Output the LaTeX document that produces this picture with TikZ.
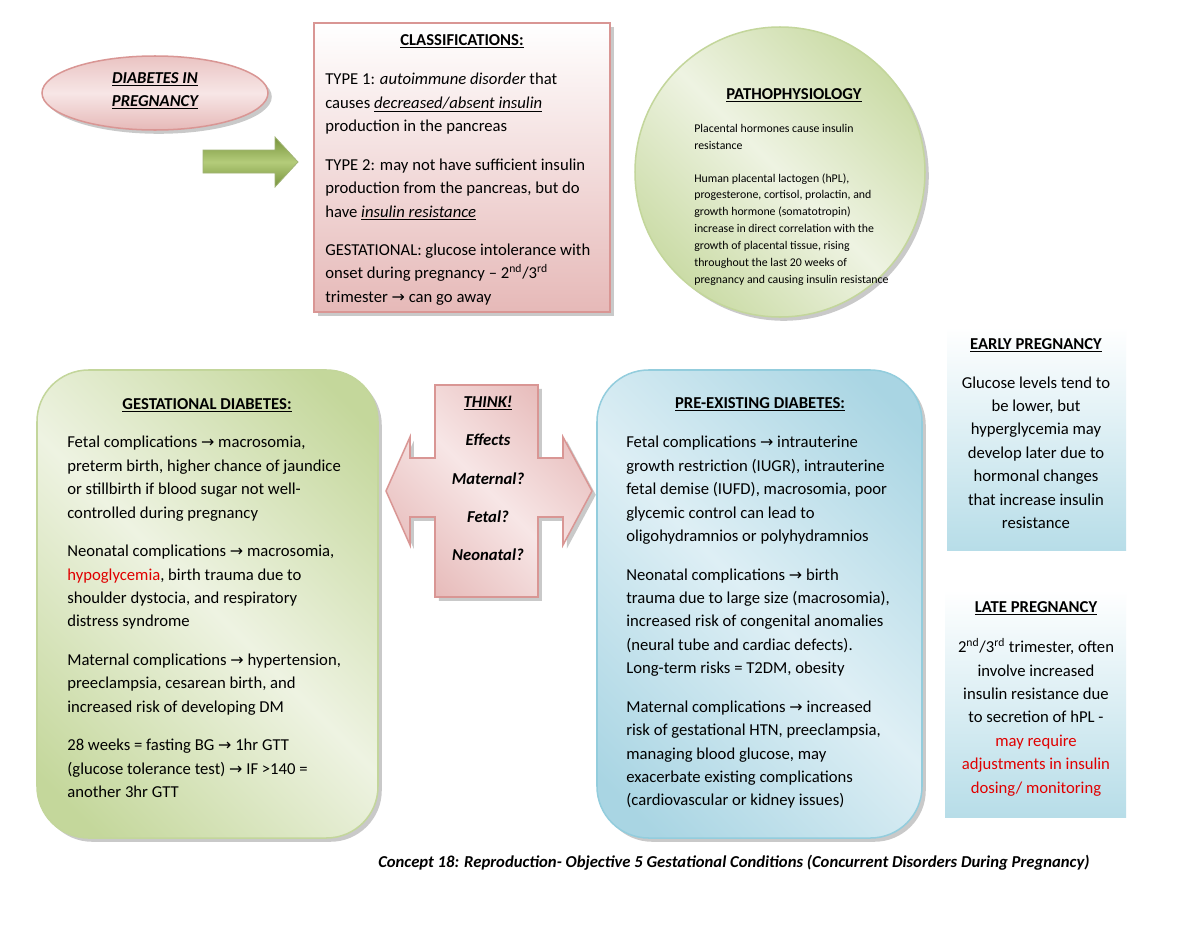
\documentclass[tikz,border=0pt]{standalone}
\usepackage{fontspec}
\setmainfont{Carlito}
\newfontfamily\arrowfont{DejaVu Sans}
\usetikzlibrary{shadows}
\newcommand\rarr{{\arrowfont\fontsize{10.5}{10.5}\selectfont →}}
\definecolor{pinkedge}{HTML}{D99694}
\definecolor{pinkfill}{HTML}{E6B9B8}
\definecolor{pinklight}{HTML}{F7E6E6}
\definecolor{gedge}{HTML}{C3D69B}
\definecolor{gdark}{HTML}{C4D79B}
\definecolor{glight}{HTML}{EEF3E2}
\definecolor{arrowdark}{HTML}{77933C}
\definecolor{arrowlight}{HTML}{B4CC7A}
\definecolor{bedge}{HTML}{93CDDD}
\definecolor{bdark}{HTML}{A9D5E3}
\definecolor{blight}{HTML}{DEEFF5}
\definecolor{bbottom}{HTML}{B7DDE8}
\definecolor{redtxt}{HTML}{E00000}
\pgfdeclareverticalshading{gdiag}{100bp}{color(0bp)=(gdark); color(20bp)=(gdark); color(50bp)=(glight); color(80bp)=(gdark); color(100bp)=(gdark)}
\pgfdeclareverticalshading{bdiag}{100bp}{color(0bp)=(bdark); color(20bp)=(bdark); color(50bp)=(blight); color(80bp)=(bdark); color(100bp)=(bdark)}
\pgfdeclareverticalshading{pdiag}{100bp}{color(0bp)=(pinkfill); color(22bp)=(pinkfill); color(50bp)=(pinklight); color(78bp)=(pinkfill); color(100bp)=(pinkfill)}
\tikzset{
  shad/.style={drop shadow={shadow xshift=2.5pt,shadow yshift=-2.5pt,opacity=0.35,fill=black!60}},
  pinkshape/.style={draw=pinkedge,line width=1pt,top color=white,bottom color=pinkfill},
  greenshape/.style={draw=gedge,line width=1pt,shade,shading=gdiag,shading angle=-45},
  blueshape/.style={draw=bedge,line width=1pt,shade,shading=bdiag,shading angle=-45},
  paleblue/.style={top color=white,bottom color=bbottom},
  txt/.style={inner sep=0pt,font=\fontsize{11}{15.45}\selectfont,align=left,anchor=north west,yshift=7.3pt,execute at begin node={\rule{0pt}{10pt}}},
  ctxt/.style={inner sep=0pt,font=\fontsize{11}{15.45}\selectfont,align=center,anchor=north,yshift=7.8pt,execute at begin node={\rule{0pt}{10pt}}},
  small/.style={inner sep=0pt,font=\fontsize{7.8}{11.2}\selectfont,align=left,anchor=north west,yshift=5pt,execute at begin node={\rule{0pt}{7pt}}},
  head/.style={inner sep=0pt,font=\bfseries\fontsize{11}{15.45}\selectfont,align=center,anchor=base},
  bihead/.style={inner sep=0pt,font=\bfseries\itshape\fontsize{11}{15.45}\selectfont,align=center,anchor=base},
}
\begin{document}
\begin{tikzpicture}[x=0.66pt,y=-0.66pt]
\useasboundingbox[fill=white] (0,0) rectangle (1200,927);

% ellipse
\path[shad,draw=pinkedge,line width=1pt,top color=pinkfill!85,bottom color=pinkfill,middle color=pinklight] (155,93) ellipse [x radius=113,y radius=37];
\coordinate (ell) at (155,93);
\node[bihead] (title1) at (155,83) {\underline{DIABETES IN}};
\node[bihead] (title2) at (155,106) {\underline{PREGNANCY}};

% green block arrow
\path[top color=arrowdark,bottom color=arrowdark,middle color=arrowlight,draw=arrowdark!70,line width=0.5pt]
 (203,150) -- (275,150) -- (275,137) -- (298,162) -- (275,187) -- (275,173) -- (203,173) -- cycle;
\coordinate (garrow) at (250,162);

% classifications box
\path[shad,pinkshape] (314,23) rectangle (610,312);
\coordinate (cls) at (462,167);
\node[head] (clshead) at (462,45) {\underline{CLASSIFICATIONS:}};
\node[txt] (clsbody) at (325,84) {TYPE 1: \textit{autoimmune disorder} that\\
causes \underline{\textit{decreased/absent insulin}}\\
production in the pancreas\\[10pt]
TYPE 2: may not have sufficient insulin\\
production from the pancreas, but do\\
have \underline{\textit{insulin resistance}}\\[10pt]
GESTATIONAL: glucose intolerance with\\
onset during pregnancy -- 2\textsuperscript{nd}/3\textsuperscript{rd}\\
trimester \rarr{} can go away};

% pathophysiology circle
\path[shad,greenshape] (780,172) circle [radius=145];
\coordinate (patho) at (780,172);
\node[head] (pathohead) at (794,99) {\underline{PATHOPHYSIOLOGY}};
\node[small] (pathobody) at (694,132) {Placental hormones cause insulin\\
resistance\\[10pt]
Human placental lactogen (hPL),\\
progesterone, cortisol, prolactin, and\\
growth hormone (somatotropin)\\
increase in direct correlation with the\\
growth of placental tissue, rising\\
throughout the last 20 weeks of\\
pregnancy and causing insulin resistance};

% gestational box
\path[shad,greenshape,rounded corners=34pt] (37,370) rectangle (378,838);
\coordinate (gest) at (207,604);
\node[head] (gesthead) at (207,409) {\underline{GESTATIONAL DIABETES:}};
\node[txt] (gestbody) at (67,447) {Fetal complications \rarr{} macrosomia,\\
preterm birth, higher chance of jaundice\\
or stillbirth if blood sugar not well-\\
controlled during pregnancy\\[10pt]
Neonatal complications \rarr{} macrosomia,\\
\textcolor{redtxt}{hypoglycemia}, birth trauma due to\\
shoulder dystocia, and respiratory\\
distress syndrome\\[10pt]
Maternal complications \rarr{} hypertension,\\
preeclampsia, cesarean birth, and\\
increased risk of developing DM\\[10pt]
28 weeks = fasting BG \rarr{} 1hr GTT\\
(glucose tolerance test) \rarr{} IF >140 =\\
another 3hr GTT};

% think cross
\path[shad,draw=pinkedge,line width=1pt,shade,shading=pdiag,shading angle=-45]
 (386,491) -- (410,437) -- (410,458) -- (435,458) -- (435,385) -- (538,385) -- (538,458) -- (563,458)
 -- (563,437) -- (592,491) -- (563,545) -- (563,517) -- (538,517) -- (538,597) -- (435,597)
 -- (435,517) -- (410,517) -- (410,545) -- cycle;
\coordinate (think) at (488,491);
\node[bihead] (think1) at (488,407) {\underline{THINK!}};
\node[bihead] (think2) at (488,445) {Effects};
\node[bihead] (think3) at (488,484) {Maternal?};
\node[bihead] (think4) at (488,522) {Fetal?};
\node[bihead] (think5) at (488,560) {Neonatal?};

% pre-existing box
\path[shad,blueshape,rounded corners=34pt] (597,370) rectangle (922,838);
\coordinate (pre) at (760,604);
\node[head] (prehead) at (760,408) {\underline{PRE-EXISTING DIABETES:}};
\node[txt] (prebody) at (626,447) {Fetal complications \rarr{} intrauterine\\
growth restriction (IUGR), intrauterine\\
fetal demise (IUFD), macrosomia, poor\\
glycemic control can lead to\\
oligohydramnios or polyhydramnios\\[10pt]
Neonatal complications \rarr{} birth\\
trauma due to large size (macrosomia),\\
increased risk of congenital anomalies\\
(neural tube and cardiac defects).\\
Long-term risks = T2DM, obesity\\[10pt]
Maternal complications \rarr{} increased\\
risk of gestational HTN, preeclampsia,\\
managing blood glucose, may\\
exacerbate existing complications\\
(cardiovascular or kidney issues)};

% early pregnancy
\path[paleblue] (947,327) rectangle (1126,550);
\coordinate (early) at (1036,438);
\node[head] (earlyhead) at (1036,349) {\underline{EARLY PREGNANCY}};
\node[ctxt] (earlybody) at (1036,388) {Glucose levels tend to\\ be lower, but\\ hyperglycemia may\\ develop later due to\\ hormonal changes\\ that increase insulin\\ resistance};

% late pregnancy
\path[paleblue] (945,590) rectangle (1126,817);
\coordinate (late) at (1036,703);
\node[head] (latehead) at (1036,612) {\underline{LATE PREGNANCY}};
\node[ctxt] (latebody) at (1036,650) {2\textsuperscript{nd}/3\textsuperscript{rd} trimester, often\\ involve increased\\ insulin resistance due\\ to secretion of hPL -\\ \textcolor{redtxt}{may require}\\ \textcolor{redtxt}{adjustments in insulin}\\ \textcolor{redtxt}{dosing/ monitoring}};

% footer
\node[bihead] (footer) at (734,867) {Concept 18: Reproduction- Objective 5 Gestational Conditions (Concurrent Disorders During Pregnancy)};
\end{tikzpicture}
\end{document}
